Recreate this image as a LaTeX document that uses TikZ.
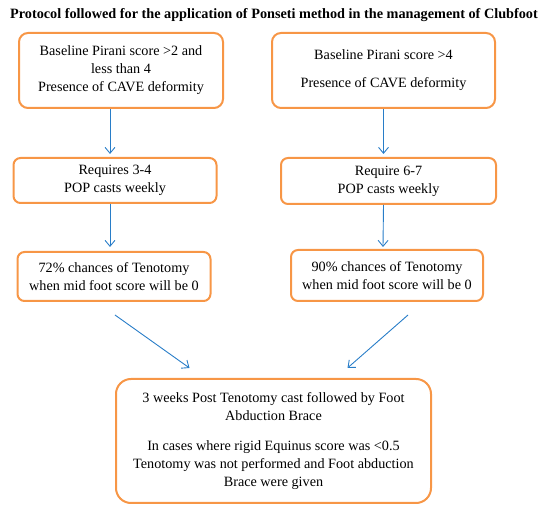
\documentclass[tikz,border=0pt]{standalone}
\usepackage{fontspec}
\setmainfont{Liberation Serif}
\usetikzlibrary{arrows.meta}
\definecolor{boxorange}{RGB}{247,150,70}
\definecolor{arrowblue}{RGB}{40,125,200}

\begin{document}
\begin{tikzpicture}[y=-1pt, x=1pt, font=\fontsize{14.2}{18}\selectfont,
  box/.style={draw=boxorange, line width=2pt, rounded corners=9pt, align=center, inner sep=0pt},
  arr/.style={draw=arrowblue, line width=0.9pt, -{Straight Barb[length=6pt,width=10pt]}}]
\useasboundingbox (0,0) rectangle (550,510);

\node [font=\fontsize{14.25}{16}\bfseries\selectfont] (title) at (274,15) {Protocol followed for the application of Ponseti method in the management of Clubfoot};

\node [box, minimum width=204pt, minimum height=75pt] (b1) at (121,70.5) {Baseline Pirani score >2 and\\ less than 4\\ Presence of CAVE deformity};
\node [box, minimum width=223pt, minimum height=75pt] (b2) at (383.5,70.5) {Baseline Pirani score >4\\[10pt] Presence of CAVE deformity};

\node [box, rounded corners=7pt, minimum width=203pt, minimum height=45pt] (b3) at (115,180.5) {Requires 3-4\\ POP casts weekly};
\node [box, rounded corners=7pt, minimum width=215pt, minimum height=46pt] (b4) at (388.5,181) {Require 6-7\\ POP casts weekly};

\node [box, rounded corners=7pt, minimum width=193pt, minimum height=49pt] (b5) at (114,276.5) {72\% chances of Tenotomy\\ when mid foot score will be 0};
\node [box, rounded corners=7pt, minimum width=192pt, minimum height=51pt] (b6) at (387,275.5) {90\% chances of Tenotomy\\ when mid foot score will be 0};

\node [box, rounded corners=15pt, minimum width=315pt, minimum height=124pt] (b7) at (273.5,441) {3 weeks Post Tenotomy cast followed by Foot\\ Abduction Brace\\[12pt] In cases where rigid Equinus score was <0.5\\ Tenotomy was not performed and Foot abduction\\ Brace were given};

\draw [arr] ([xshift=-11pt]b1.south) -- ([xshift=-5pt,yshift=3pt]b3.north);
\draw [arr] (b2.south) -- ([yshift=3pt]b4.north -| b2.south);
\draw [arr] ([xshift=-5pt]b3.south) -- ([xshift=-4pt,yshift=4pt]b5.north);
\draw [arr] ([xshift=-5pt]b4.south) -- ([xshift=-4pt,yshift=2pt]b6.north);

\draw [arr] ([xshift=1pt,yshift=-13pt]b5.south) -- ([xshift=-84pt,yshift=10pt]b7.north);
\draw [arr] ([xshift=21pt,yshift=-13pt]b6.south) -- ([xshift=74pt,yshift=10pt]b7.north);
\end{tikzpicture}
\end{document}
